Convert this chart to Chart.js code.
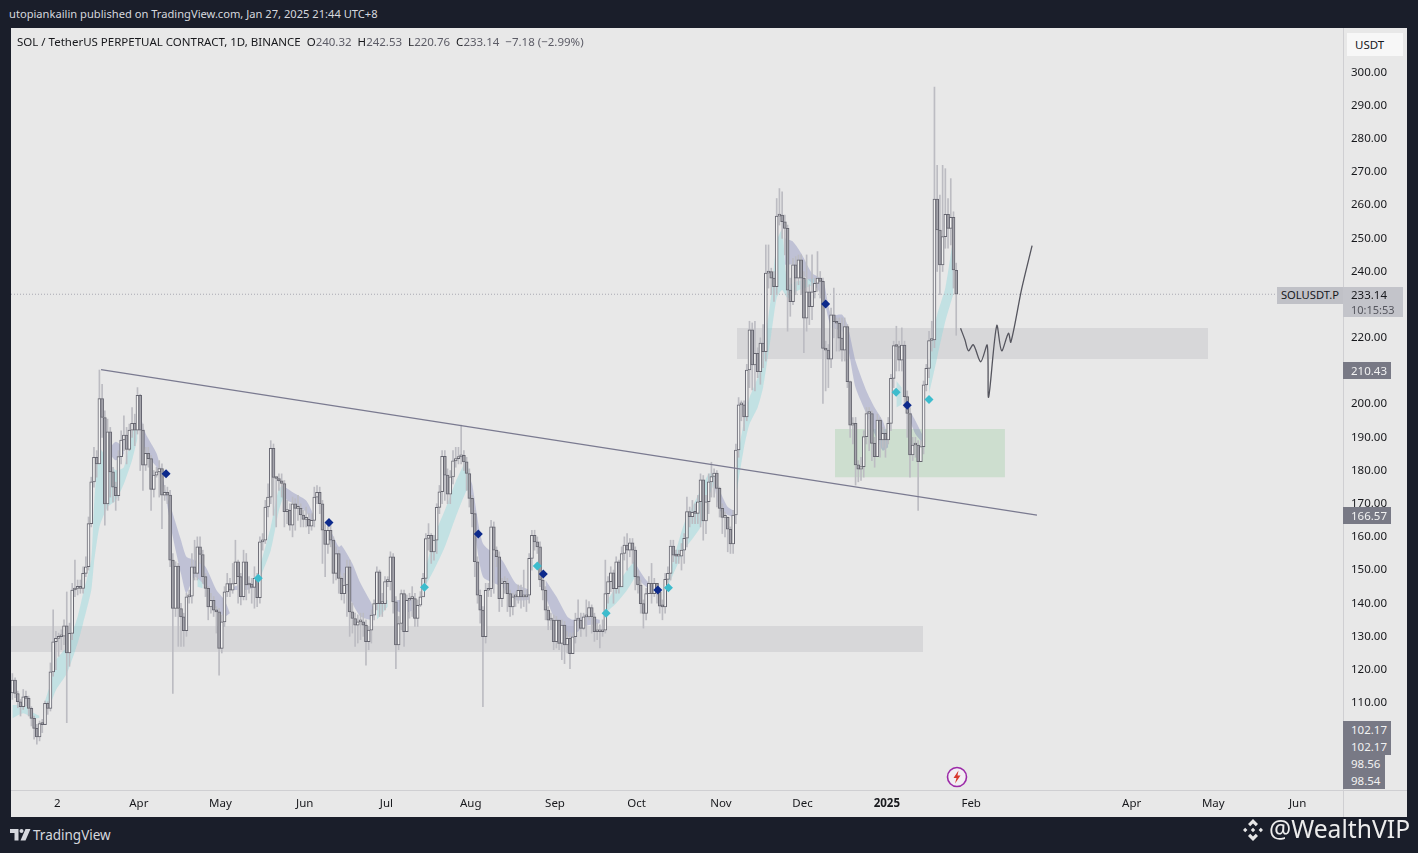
<!DOCTYPE html>
<html>
<head>
<meta charset="utf-8">
<title>SOLUSDT.P</title>
<script src="https://cdn.jsdelivr.net/npm/chart.js@4"></script>
<style>
    html, body { margin: 0; padding: 0; background: #1a1e2a; width: 1418px; height: 853px; overflow: hidden; }
    body { font-family: "Noto Sans", sans-serif; position: relative; }
    #panel { position: absolute; left: 11px; top: 28px; width: 1396px; height: 789px; background: #e8e8e8; }
    #priceChart { position: absolute; left: 0; top: 0; }
    .txt { position: absolute; white-space: nowrap; }
    .chip { position: absolute; left: 1343px; color: #f2f2f2; background: #787985; font-size: 11.5px; line-height: 17px; text-indent: 8px; }
    .line { position: absolute; background: #cfcfd2; }
    b.v { font-weight: normal; color: #5c5c66; }
</style>
</head>
<body>
<div id="panel"><canvas id="priceChart" width="1396" height="789"></canvas></div>

<div class="line" style="left:1343px;top:28px;width:1px;height:789px"></div>
<div class="line" style="left:11px;top:790px;width:1396px;height:1px"></div>

<div class="txt" style="left:9px;top:6px;font-size:11.15px;line-height:16px;color:#d6d8de">utopiankailin published on TradingView.com, Jan 27, 2025 21:44 UTC+8</div>
<div class="txt" style="left:17px;top:33px;font-size:11.5px;line-height:17px;color:#17181c">SOL / TetherUS PERPETUAL CONTRACT, 1D, BINANCE &nbsp;O<b class="v">240.32</b> &nbsp;H<b class="v">242.53</b> &nbsp;L<b class="v">220.76</b> &nbsp;C<b class="v">233.14</b> &nbsp;<b class="v">−7.18 (−2.99%)</b></div>

<div class="txt" style="left:1347px;top:33px;width:56px;height:23px;background:#f7f7f7;font-size:11.5px;line-height:23px;color:#17181c;text-indent:8px">USDT</div>

<div class="txt" style="left:1277px;top:287px;width:66px;height:17px;background:#c0c1c7;font-size:11.2px;line-height:16px;color:#17181c;text-align:center">SOLUSDT.P</div>
<div class="txt" style="left:1343px;top:287px;width:52px;height:30px;padding-left:8px;background:#c3c4ca;font-size:11.5px;line-height:15px;color:#17181c">233.14<br><span style="color:#55565e;font-size:11px">10:15:53</span></div>

<div class="chip" style="top:362px;width:48px">210.43</div>
<div class="chip" style="top:507px;width:48px">166.57</div>
<div class="chip" style="top:721px;width:48px">102.17</div>
<div class="chip" style="top:738px;width:48px">102.17</div>
<div class="chip" style="top:755px;width:42px">98.56</div>
<div class="chip" style="top:772px;width:42px">98.54</div>

<svg class="txt" style="left:946px;top:766px" width="22" height="22" viewBox="0 0 22 22">
    <circle cx="11" cy="11" r="9.5" fill="#f2eef3" stroke="#9c2aa8" stroke-width="1.6"/>
    <path d="M12.5 4.5 L7.5 12 H10.5 L9 17.5 L14.5 9.5 H11.5 Z" fill="#d8392f"/>
</svg>

<svg class="txt" style="left:10px;top:829px" width="21" height="12" viewBox="0 0 21 12">
    <path d="M0 0H8.5V11.5H4.5V4H0Z M15.5 0H20.5L15.5 11.5H10.5Z" fill="#d6d8de"/><circle cx="11.5" cy="2" r="2" fill="#d6d8de"/>
</svg>
<div class="txt" style="left:33px;top:826px;font-size:13.5px;line-height:19px;color:#d6d8de">TradingView</div>

<svg class="txt" style="left:1240px;top:817px" width="26" height="26" viewBox="0 0 26 26">
    <path d="M13 2 L18 7 L15.8 9.2 L13 6.4 L10.2 9.2 L8 7 Z M5.2 10.8 L7.4 13 L5.2 15.2 L3 13 Z M20.8 10.8 L23 13 L20.8 15.2 L18.6 13 Z M13 10.8 L15.2 13 L13 15.2 L10.8 13 Z M13 24 L8 19 L10.2 16.8 L13 19.6 L15.8 16.8 L18 19 Z" fill="#e6e6e6"/>
</svg>
<div class="txt" style="left:1269px;top:813px;font-size:24.7px;line-height:32px;color:#ececec">@WealthVIP</div>

<script>
// daily candles, Feb 2024 to 27 Jan 2025
const opens = [
    113,116.8,112.8,110.3,108.8,111.8,111.3,108.3,105.3,102.3,
    99.7,103.7,103.4,109.8,108.3,119.3,128.4,129.4,129.9,130.1,
    133.2,125,130.9,144,144.5,144.7,144.5,149,151,164,
    176.6,184,182,201.7,196,169.9,191.7,179.6,175,172.4,
    184.2,189.2,190.7,186.4,192.2,194.2,192.2,202.7,192.2,181.6,
    185.2,183.6,174.3,178.6,179.6,180.6,172.6,173.4,172.6,153,
    138.4,151.2,138.4,135.9,131.7,141.9,142.1,151,149,157,
    154.7,148,144.5,138.9,140.9,137.9,137.4,126.4,134.4,143.4,
    145.9,143.9,145.9,152.5,148,142,152.5,145.5,145.8,144.8,
    147.5,141.7,158.5,159,169,172,186.7,177.9,177.6,176.9,
    176.1,167.6,168,163.5,170,168.6,168.6,166.6,165.3,165.3,
    163.2,165,172,173.4,170,162,157.7,162,159,149,
    155,147.5,142.9,145.5,151,137.4,135.4,133.4,134.4,134.4,
    133.4,128.4,131.9,136.4,139.9,149.5,139.9,139.9,146.5,146.5,
    154,140.4,127.4,133.9,142.9,131.4,140.9,141.4,141.4,135.4,
    139.4,141.9,147.5,159.5,160.5,155.5,159,168.9,173.6,184.3,
    178.6,172.9,178.1,182.9,183.6,184.1,184.6,182.6,179.1,171.6,
    167,152.5,142.4,137.9,129.9,143.9,144.4,163,156,154,
    141.4,146,146,142.9,138.9,141.9,141.9,143.9,141.9,141.9,
    142.4,153.5,160.5,158.5,157,147,143.9,137.9,134.9,134.9,
    128.4,134.9,127.9,133.4,127.4,129.4,124.8,129.9,134.9,134.9,
    132.4,135.9,135.9,138.7,135.9,131.4,131.4,131.4,131.9,142.9,
    146.5,149.2,144.4,152.5,144.9,155,157.5,156,158.2,156,
    148,145.5,139.9,136.9,142.9,146,142.9,146,143.4,139.1,
    138.9,147.2,149,157.2,154.5,154.2,154.2,156,159.6,167.6,
    166.1,167.4,167.1,170.6,177.2,164.8,170.6,176.6,178.2,179.2,
    174.6,168.6,165.9,165.9,162.3,157.9,166.6,186.2,199.8,199.8,
    196.2,210.3,222.4,211.8,215.3,209.8,218.4,215.8,239.5,240,
    238,235.4,256.7,257,255,253,234.4,230.9,242,238,
    243.5,238,225.9,233.9,229.4,233.9,236.4,238,237,216.8,
    216.3,213.6,226.9,224.9,224.4,219.9,216.3,223.4,206.8,193.7,
    194.2,181.7,180.4,181.2,190.2,197.2,197.2,188.2,184.2,195.2,
    189.2,191.2,189.2,194.2,207.8,217.7,217.4,213.3,217.8,202.3,
    197.2,184.7,187.7,187.7,182.7,187.2,205.8,210.8,219.2,219.4,
    261.8,252.5,242,250.5,257.2,253,256.3,240.32
];
const closes = [
    116.8,112.8,110.3,108.8,111.8,111.3,108.3,105.3,102.3,99.7,
    103.7,103.4,109.8,108.3,119.3,128.4,129.4,129.9,130.1,133.2,
    125,130.9,144,144.5,144.7,144.5,149,151,164,176.6,
    184,182,201.7,196,169.9,191.7,179.6,175,172.4,184.2,
    189.2,190.7,186.4,192.2,194.2,192.2,202.7,192.2,181.6,185.2,
    183.6,174.3,178.6,179.6,180.6,172.6,173.4,172.6,153,138.4,
    151.2,138.4,135.9,131.7,141.9,142.1,151,149,157,154.7,
    148,144.5,138.9,140.9,137.9,137.4,126.4,134.4,143.4,145.9,
    143.9,145.9,152.5,148,142,152.5,145.5,145.8,144.8,147.5,
    141.7,158.5,159,169,172,186.7,177.9,177.6,176.9,176.1,
    167.6,168,163.5,170,168.6,168.6,166.6,165.3,165.3,163.2,
    165,172,173.4,170,162,157.7,162,159,149,155,
    147.5,142.9,145.5,151,137.4,135.4,133.4,134.4,134.4,133.4,
    128.4,131.9,136.4,139.9,149.5,139.9,139.9,146.5,146.5,154,
    140.4,127.4,133.9,142.9,131.4,140.9,141.4,141.4,135.4,139.4,
    141.9,147.5,159.5,160.5,155.5,159,168.9,173.6,184.3,178.6,
    172.9,178.1,182.9,183.6,184.1,184.6,182.6,179.1,171.6,167,
    152.5,142.4,137.9,129.9,143.9,144.4,163,156,154,141.4,
    146,146,142.9,138.9,141.9,141.9,143.9,141.9,141.9,142.4,
    153.5,160.5,158.5,157,147,143.9,137.9,134.9,134.9,128.4,
    134.9,127.9,133.4,127.4,129.4,124.8,129.9,134.9,134.9,132.4,
    135.9,135.9,138.7,135.9,131.4,131.4,131.4,131.9,142.9,146.5,
    149.2,144.4,152.5,144.9,155,157.5,156,158.2,156,148,
    145.5,139.9,136.9,142.9,146,142.9,146,143.4,139.1,138.9,
    147.2,149,157.2,154.5,154.2,154.2,156,159.6,167.6,166.1,
    167.4,167.1,170.6,177.2,164.8,170.6,176.6,178.2,179.2,174.6,
    168.6,165.9,165.9,162.3,157.9,166.6,186.2,199.8,199.8,196.2,
    210.3,222.4,211.8,215.3,209.8,218.4,215.8,239.5,240,238,
    235.4,256.7,257,255,253,234.4,230.9,242,238,243.5,
    238,225.9,233.9,229.4,233.9,236.4,238,237,216.8,216.3,
    213.6,226.9,224.9,224.4,219.9,216.3,223.4,206.8,193.7,194.2,
    181.7,180.4,181.2,190.2,197.2,197.2,188.2,184.2,195.2,189.2,
    191.2,189.2,194.2,207.8,217.7,217.4,213.3,217.8,202.3,197.2,
    184.7,187.7,187.7,182.7,187.2,205.8,210.8,219.2,219.4,261.8,
    252.5,242,250.5,257.2,253,256.3,240.5,233.14
];
const highs = [
    118.8,117.5,113.5,111,114,113.5,112,108.8,106,103.5,
    104.5,105,110.5,110.3,122,138,131.5,131,132,135,
    143.4,134,146,153,147,147,151,154,166,178,
    187,186,210.3,206,198,195.5,193,181,176.5,186,
    192,196.5,193,194,199,197,205,203,194,187,
    187,184.5,180,181,183,182,175.5,175,174,155,
    152.5,152,140,137,143,144,155,159,160,160,
    156,149,145,143,142,139,138.5,136.5,145,149,
    147.5,152,159,153,149,156,155,148,147.5,151,
    149,160,161,171,176,189,188,178,179,179,
    177,171,170,172,171.5,172.5,170,168,169,167,
    167,175,175.5,175,171,164,164,164,160,157,
    156,148,149,153,153,140,137,136.5,137,137,
    135,133,138,141,151,150,143,148,148,155.5,
    155,142,136,144,144,142.5,143,145,143,141,
    143.5,149,161,164,161,160.5,170,175.5,186,186,
    180.5,180,186,187,187,193.7,186,184,180.5,172.5,
    168,154,144,139,146,146,165,164.5,157,155.5,
    147.5,148,147.5,144,143,143.5,145.5,145.5,150,144,
    155,162,162,160,158.5,149,145,139,137,136.5,
    136,135,135,134.5,131.5,131,131,137,141,137,
    137,141,140.5,139.5,137,134,133.5,135,153,148,
    151,150,154,153,157,160,161,159.5,159.5,157,
    150,147,141,144.5,148,152,147.5,146,144,141,
    149,151,159,159,156,156,158,161,172,169,
    171,170,172.5,179,178.5,172.5,179,182.5,180.5,180,
    175,170,167.5,166,163,168,188,202,201,201,
    212,225,224.5,225,217,220,224,248,248,241,
    240,262,265,264,257,254,238,244,244.5,245,
    245,240,245,236,245,238,246,240,238,219,
    218,229,235,226,226,226,226,224,207,196,
    196,183,184,192,199,199,198,190,197,196,
    193,192,196,209,219,223.5,219,223,219,204,
    199,190,190,189,189,207,212,222,225,295.6,
    272,263,272,271,262,268,258,242.53
];
const lows = [
    111,111.5,108.5,106,108,109,106,103,99,97.5,
    98.5,101,107,106.5,107.5,118,120,124,126,127.5,
    104,121,129,142,142.5,143,143,148,150,163,
    175,178,182,190,163.5,168,172,170.5,168,171,
    182,186,182,186,190,187.5,191,180,174,180,
    181,168,172,178,172,162.5,171,170,151,112.8,
    136,127,127,127,130,140,140,147,147,152,
    146,142,135,137,136,131,118.3,125,133,142,
    142,143,146,140,139.5,141,141,143,140,138.5,
    139,140,156,158,166,170,166.5,163,174,172,
    163,164,162,160,162,165,163,163,163,161,
    162,163,170,167,152,148,155,157,146,147,
    143,141,140,136,130,131,127,128,129,130,
    121.3,126,128,135,138,136,136,138,145,144,
    137,120.3,126,132,127,135,135.5,136,133,133,
    139,144,146,156,152,153,155,167,170,171,
    170,170,176,181,182,182,180,174,169,163,
    148,140,134,108.8,128,142,142,143,151,137.5,
    139,143,137.5,136,136.5,139,140,138.5,139,137.5,
    140,150,156,155,145,141,135,132,132,126,
    126.5,126,123,121.8,125,120.3,125,128,132,130,
    132,130,135,131,128.5,129,126.5,130,131,140,
    143.5,140,143,143,148,153,150,154,152,144,
    143,137,132.5,135,144,140,142,140,137,135,
    137,146,147,152.5,152,152,150,152,157,163,
    164,164,164,163,159,161,167,172,172,169,
    166,161,160,155.5,155,155,164,184,195,192,
    195,205,204.3,204,208,206,211,213,235,233,
    231,233,254,250,245,222,226.5,230,233,236,
    233,215.5,222,224,225.5,232,234,232,200.2,204,
    205,211,220,216,216,213,213,205,190,188,
    175.6,176.6,177,178,188,186,183,181,187,184,
    187,184,188,192,205,210,210,210,199,190,
    178,183,184,168,184,185,204,208,216,217,
    240,233,240,247,247,248,235,220.76
];

// moving-average ribbon, null = gap between two runs
const tealDays = [0,4,8,10,11, 12,14,16,20,24,26,29,30,32,35,38,41,44,46,47, 68,70,71, 91,95,98,100,101, 134,138,139, 151,155,159,163,167,168,169, 218,222,226,229,230, 241,247,253,256,258,259, 266,269,271,274,276,279,281,283,285,288,295,296, 325,327,328, 337,340,343,346];
const tealUpper = [109.3,109.3,106.8,106,null, 110.5,115.8,122.8,126.9,135.9,142.9,153,169,186.7,183.1,180.1,181,191.2,195.2,null, 148,146,null, 151,163,174.6,175.6,null, 140,141,null, 147,160,168,176.6,183,178,null, 140,145,150,153,null, 147,164,174,179,179,null, 181,195,202,208,215,233,249,252.5,236,237,238,null, 207,205,null, 214,227,235,250.5];
const tealLower = [105.3,106.8,105.3,105.5,null, 108,109.8,113.8,118.8,127.9,133.9,143.9,152,163,169,171,176,183.1,189.7,null, 145,144.5,null, 147.5,156,168,173,null, 135,139,null, 144,150,157,166,174,174,null, 137,140,144,148,null, 145,156,163,172,176,null, 172,187,194,199,205,221,232,234.4,232,234,236,null, 199,200,null, 203,214,225,233.4];

const purpleDays = [35,38,41,42, 47,49,53,55,56,59,62,64,67,71,75,78,80,81, 81.5,86,90,91, 100,101,104,108,110,111,112, 117,120,121,125,128,132,133,134, 140,144,148,149, 168,169,173,180,185,190,191, 196,200,204,206,210,216,217, 229,233,237,238, 258,260,263,265,266, 284,287,290,294,298,301,305,307,310,314,317,320,322,323, 330,332,335];
const purpleUpper = [186,188.7,187,null, 196.7,191.2,185.2,179,175,167,159,154,153,151,144,141,137,null, 145,146,146,null, 175,174.6,173,171,168,165,null, 162,157,157.5,152,146,140,138,null, 141,141,141,null, 178,176,158,153,146,144,null, 147,142,136,135,136,135,null, 152,147,144,null, 178,174,169,168,null, 250,249,245.5,239.5,237.5,227,227,224,213,204,199,195,190,null, 198,195,190];
const purpleLower = [186,183.1,185,null, 196.7,185.2,181.1,177,174,160,149,143,148,145,138,136,137,null, 144,144,145,null, 173,171,170,167.5,164.5,165,null, 159,152,148,140,136,135,136,null, 138,137,138,null, 174,168,148,145,141,141,null, 142,134,130,130,133,134,null, 148,145,143,null, 176,168,166.6,166,null, 242,242,239.5,236.5,232.4,223.4,222,218,205,197,191,186,187,null, 195,191,188];

const sellDays = [56.5,116.4,171.3,195.2,237.3,299,329];
const sellPrices = [179,164.3,160.9,148.8,144,230.2,199.7];
const buyDays = [90.4,151.5,193,218.3,241.2,324.9,337];
const buyPrices = [147.5,144.8,151.2,137,144.7,203.6,201.4];

const trendDays = [32.6,376.7];
const trendPrices = [210.43,166.57];

const sketchDays = [348.6,350.2,351.5,353.3,356,358.4,358.9,361.9,363.7,366.2,367.1,371.1,374.9];
const sketchPrices = [222.9,219.4,216.1,217.9,212.8,217.8,202.1,223.7,216.1,221.4,218.7,234.9,247.8];

const lastPrice = 233.14;

const monthDays = [16.5,46.5,76.5,107.5,137.5,168.5,199.5,229.5,260.5,290.5,321.5,352.5,411.5,441.5,472.5];
const monthLabels = ['2','Apr','May','Jun','Jul','Aug','Sep','Oct','Nov','Dec','2025','Feb','Apr','May','Jun'];
const priceTicks = [110,120,130,140,150,160,170,180,190,200,210,220,230,240,250,260,270,280,290,300];

const days = closes.map((c, i) => i);

function pairs(xs, ys) {
    return xs.map((x, i) => ({ x: x, y: ys[i] }));
}

function area(xs, upper, lower, color, order, tension) {
    const common = { type: 'line', borderWidth: 0, pointRadius: 0, tension: tension, order: order };
    return [
        Object.assign({ data: pairs(xs, upper), fill: { target: '+1' }, backgroundColor: color }, common),
        Object.assign({ data: pairs(xs, lower), fill: false }, common)
    ];
}

const ctx = document.getElementById('priceChart').getContext('2d');
new Chart(ctx, {
    type: 'bar',
    data: {
        datasets: [
            ...area([-0.5,334.8], [133.1,133.1], [125.3,125.3], 'rgba(150,150,160,0.2)', 20, 0),
            ...area([266.4,439.6], [223,223], [213.6,213.6], 'rgba(150,150,160,0.2)', 20, 0),
            ...area([302.4,364.9], [192.5,192.5], [178,178], 'rgba(110,185,120,0.22)', 20, 0),
            ...area(tealDays, tealUpper, tealLower, 'rgba(140,215,220,0.42)', 10, 0.2),
            ...area(purpleDays, purpleUpper, purpleLower, 'rgba(120,125,180,0.36)', 10, 0.2),
            {
                type: 'line',
                data: [{ x: -0.5, y: lastPrice }, { x: 489.2, y: lastPrice }],
                borderColor: '#a9a9b2',
                borderWidth: 1,
                borderDash: [1, 2],
                pointRadius: 0,
                order: 9
            },
            {
                data: days.map(i => ({ x: i, y: [lows[i], highs[i]] })),
                backgroundColor: '#bcbcc2',
                barThickness: 1,
                grouped: false,
                order: 5
            },
            {
                data: days.map(i => ({ x: i, y: [opens[i], closes[i]] })),
                backgroundColor: c => closes[c.dataIndex] >= opens[c.dataIndex] ? '#f2f2f2' : '#a4a4ab',
                borderColor: '#65656f',
                borderWidth: 1,
                borderSkipped: false,
                barThickness: 3,
                minBarLength: 2,
                grouped: false,
                order: 4
            },
            {
                type: 'line',
                data: pairs(trendDays, trendPrices),
                borderColor: '#7a7a90',
                borderWidth: 1.1,
                pointRadius: 0,
                order: 3
            },
            {
                type: 'line',
                data: pairs(sketchDays, sketchPrices),
                borderColor: '#55555e',
                borderWidth: 1.3,
                pointRadius: 0,
                tension: 0.3,
                order: 3
            },
            {
                type: 'line',
                data: pairs(sellDays, sellPrices),
                showLine: false,
                pointStyle: 'rectRot',
                pointRadius: 4.5,
                pointBorderWidth: 0,
                pointBackgroundColor: '#0d2a8c',
                order: 2
            },
            {
                type: 'line',
                data: pairs(buyDays, buyPrices),
                showLine: false,
                pointStyle: 'rectRot',
                pointRadius: 4.5,
                pointBorderWidth: 0,
                pointBackgroundColor: '#3dbccd',
                order: 2
            }
        ]
    },
    options: {
        responsive: false,
        animation: false,
        devicePixelRatio: 1,
        layout: { padding: 0, autoPadding: false },
        plugins: { legend: { display: false }, tooltip: { enabled: false } },
        scales: {
            x: {
                type: 'linear',
                bounds: 'data',
                min: -0.5,
                max: 489.2,
                offset: false,
                grid: { display: false, drawTicks: false },
                border: { display: false },
                afterBuildTicks: scale => {
                    scale.ticks = monthDays.map(d => ({ value: d }));
                },
                afterFit: scale => {
                    scale.height = 27;
                    scale.paddingLeft = 0;
                    scale.paddingRight = 0;
                },
                ticks: {
                    autoSkip: false,
                    maxRotation: 0,
                    padding: 7,
                    color: '#17181c',
                    font: c => ({
                        family: '"Noto Sans", sans-serif',
                        size: 11.5,
                        weight: c.tick && c.tick.value === 321.5 ? 'bold' : 'normal'
                    }),
                    callback: value => monthLabels[monthDays.indexOf(value)]
                }
            },
            y: {
                position: 'right',
                bounds: 'data',
                min: 83.7,
                max: 313.4,
                grid: { display: false, drawTicks: false },
                border: { display: false },
                afterBuildTicks: scale => {
                    scale.ticks = priceTicks.map(p => ({ value: p }));
                },
                afterFit: scale => {
                    scale.width = 64;
                    scale.paddingTop = 0;
                    scale.paddingBottom = 0;
                },
                ticks: {
                    autoSkip: false,
                    padding: 8,
                    color: '#17181c',
                    font: { family: '"Noto Sans", sans-serif', size: 11.5 },
                    callback: value => value.toFixed(2)
                }
            }
        }
    }
});
</script>
</body>
</html>
